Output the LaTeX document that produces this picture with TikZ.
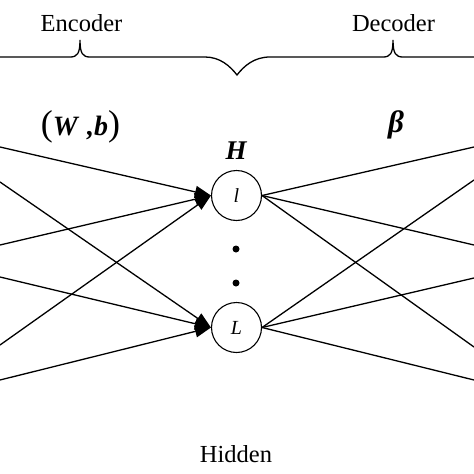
\documentclass[tikz,border=0pt]{standalone}
\usepackage{fontspec}
\setmainfont{Liberation Serif}
\usetikzlibrary{arrows.meta}
\begin{document}
\begin{tikzpicture}[x=1pt,y=-1pt,
  lbl/.style={font=\fontsize{24.5}{28}\selectfont, inner sep=0pt, anchor=base},
  sym/.style={font=\fontsize{28}{32}\selectfont\bfseries\itshape, inner sep=0pt, anchor=base},
  neuron/.style={circle, draw, line width=1.1pt, minimum size=50pt, inner sep=0pt, font=\fontsize{20}{24}\selectfont\itshape},
  link/.style={line width=1.3pt},
  arr/.style={link, -{Triangle[length=16pt,width=12pt]}},
  dot/.style={circle, fill, minimum size=7pt, inner sep=0pt}
  ]
\useasboundingbox (0,0) rectangle (474,474);
% brace
\draw[line width=1.3pt] (0,57) -- (70,57) .. controls (77,57) and (80,54) .. (80,40)
  .. controls (80,54) and (83,57) .. (90,57) -- (205,57)
  .. controls (220,57) and (230,66) .. (237,75)
  .. controls (244,66) and (254,57) .. (270,57) -- (383,57)
  .. controls (390,57) and (393,54) .. (393,40)
  .. controls (393,54) and (396,57) .. (403,57) -- (474,57);
\node[lbl] (enc) at (81.5,31) {Encoder};
\node[lbl] (dec) at (393.5,31) {Decoder};
\node[lbl] (hid) at (236,462) {Hidden};
\node[sym] (wb) at (80.5,135) {{\fontsize{36}{36}\selectfont\mdseries\upshape(}W\,\,,b{\fontsize{36}{36}\selectfont\mdseries\upshape)}};
\node[sym, font=\fontsize{31}{34}\selectfont\bfseries\itshape] (beta) at (396,132) {β};
\node[sym, font=\fontsize{27}{30}\selectfont\bfseries\itshape] (H) at (236,159) {H};
% neurons
\node[neuron] (l) at (236.5,195.5) {l};
\node[neuron] (L) at (236.5,327.5) {L};
\node[dot] (d1) at (236,249) {};
\node[dot] (d2) at (236,283) {};
% inputs
\coordinate (i1) at (0,147);
\coordinate (i2) at (0,182);
\coordinate (i3) at (0,245);
\coordinate (i4) at (0,277);
\coordinate (i5) at (0,345);
\coordinate (i6) at (0,380);
\draw[arr] (i1) -- (l.west);
\draw[arr] (i3) -- (l.west);
\draw[arr] (i5) -- (l.west);
\draw[arr] (i2) -- (L.west);
\draw[arr] (i4) -- (L.west);
\draw[arr] (i6) -- (L.west);
% outputs
\coordinate (o1) at (474,147);
\coordinate (o2) at (474,180);
\coordinate (o3) at (474,245);
\coordinate (o4) at (474,278);
\coordinate (o5) at (474,347);
\coordinate (o6) at (474,380);
\draw[link] (l.east) -- (o1);
\draw[link] (l.east) -- (o3);
\draw[link] (l.east) -- (o5);
\draw[link] (L.east) -- (o2);
\draw[link] (L.east) -- (o4);
\draw[link] (L.east) -- (o6);
\end{tikzpicture}
\end{document}
